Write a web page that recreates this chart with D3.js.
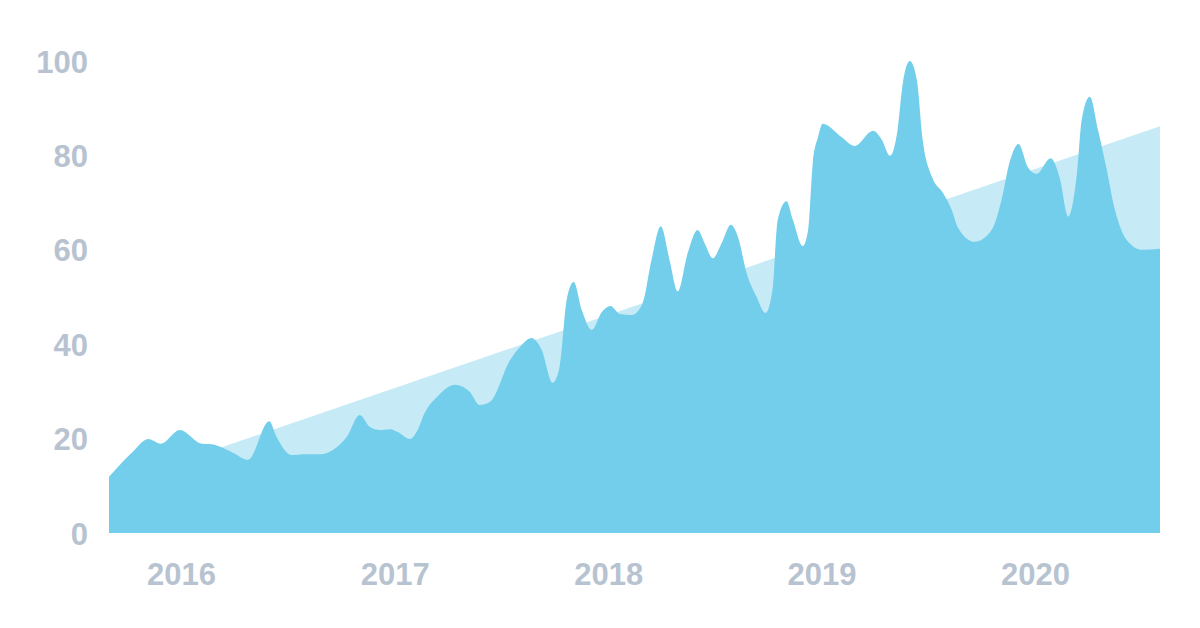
<!DOCTYPE html>
<html>
<head>
<meta charset="utf-8">
<script src="https://cdn.jsdelivr.net/npm/d3@7"></script>
<style>
  html, body { margin: 0; padding: 0; background: #ffffff; }
  svg { display: block; }
  .tick text { font-family: "Liberation Sans", Arial, sans-serif; font-weight: bold; }
</style>
</head>
<body>
<svg id="chart" width="1200" height="628"></svg>
<script>
// ---- data ----
const dates = [
  "2015-08-31","2015-10-09","2015-11-06","2015-11-28","2015-12-30",
  "2016-02-06","2016-02-23","2016-03-13","2016-03-30","2016-04-25",
  "2016-05-31","2016-06-13","2016-07-09","2016-07-28","2016-08-26",
  "2016-09-17","2016-10-11","2016-11-02","2016-11-19","2016-12-06",
  "2016-12-24","2017-01-06","2017-01-27","2017-02-09","2017-02-21",
  "2017-03-14","2017-04-14","2017-05-09","2017-05-26","2017-06-13",
  "2017-07-17","2017-08-03","2017-08-23","2017-09-09","2017-09-28",
  "2017-10-10","2017-10-22","2017-11-03","2017-11-17","2017-12-04",
  "2017-12-21","2018-01-05","2018-01-21","2018-02-10","2018-03-01",
  "2018-03-16","2018-04-01","2018-04-16","2018-04-30","2018-05-17",
  "2018-06-03","2018-06-15","2018-06-29","2018-07-14","2018-07-30",
  "2018-08-11","2018-08-26","2018-09-12","2018-09-27","2018-10-09",
  "2018-10-18","2018-11-02","2018-11-13","2018-11-30","2018-12-09",
  "2018-12-17","2018-12-26","2019-01-03","2019-02-04","2019-02-27",
  "2019-03-30","2019-04-14","2019-04-28","2019-05-11","2019-05-20",
  "2019-06-01","2019-06-13","2019-06-23","2019-07-09","2019-07-28",
  "2019-08-12","2019-08-22","2019-09-20","2019-10-19","2019-11-05",
  "2019-11-19","2019-12-04","2019-12-20","2020-01-04","2020-01-28",
  "2020-02-12","2020-02-27","2020-03-13","2020-03-21","2020-04-04",
  "2020-04-18","2020-05-03","2020-05-16","2020-06-06","2020-07-03",
  "2020-08-02"
];
const interest = [
  11.9, 17.0, 19.9, 18.9, 21.8,
  18.9, 18.8, 18.0, 17.0, 15.5,
  23.7, 20.3, 16.5, 16.7, 16.7,
  17.6, 20.4, 25.0, 22.5, 21.8,
  22.0, 21.4, 19.9, 21.8, 25.4,
  28.8, 31.4, 29.9, 27.1, 27.8,
  36.6, 39.4, 41.3, 38.8, 31.8,
  35.2, 49.4, 53.2, 47.2, 43.0,
  46.8, 48.1, 46.4, 46.2, 48.7,
  57.8, 65.0, 57.8, 51.2, 59.3,
  64.2, 61.4, 58.2, 61.4, 65.3,
  62.7, 55.0, 50.0, 46.6, 51.5,
  66.3, 70.3, 66.3, 60.8, 64.2,
  78.4, 83.9, 86.7, 83.9, 82.0,
  85.2, 83.3, 79.9, 85.4, 95.3,
  100.0, 96.0, 83.3, 75.4, 72.0,
  68.4, 64.8, 61.7, 64.2, 70.6,
  78.7, 82.4, 77.5, 76.1, 79.4,
  75.4, 67.0, 76.3, 87.5, 92.4,
  85.4, 76.9, 68.9, 62.1, 60.0,
  60.2
];
const trendDates = ["2015-08-31", "2020-08-02"];
const trendValues = [10, 86.2];
const yTicks = [0, 20, 40, 60, 80, 100];
const xTickYears = ["2016", "2017", "2018", "2019", "2020"];

// ---- build ----
const parse = d3.timeParse("%Y-%m-%d");
const series = dates.map((d, i) => ({ date: parse(d), value: interest[i] }));
const trend = trendDates.map((d, i) => ({ date: parse(d), value: trendValues[i] }));

const svg = d3.select("#chart");
const x = d3.scaleTime()
  .domain(d3.extent(series, d => d.date))
  .range([109, 1160]);
const y = d3.scaleLinear().domain([0, 100]).range([533, 61]);

const textColor = "#b7c3d0";

// trend area (light)
svg.append("path")
  .datum(trend)
  .attr("fill", "#c6eaf6")
  .attr("d", d3.area().x(d => x(d.date)).y0(y(0)).y1(d => y(d.value)));

// interest area (dark)
svg.append("path")
  .datum(series)
  .attr("fill", "#72ceea")
  .attr("d", d3.area()
    .curve(d3.curveMonotoneX)
    .x(d => x(d.date)).y0(y(0)).y1(d => y(d.value)));

// y axis
const yAxis = svg.append("g")
  .attr("transform", "translate(88,0)")
  .call(d3.axisLeft(y).tickValues(yTicks).tickSize(0).tickPadding(0));
yAxis.select(".domain").remove();
yAxis.selectAll("text")
  .attr("fill", textColor)
  .attr("font-size", 31)
  .attr("dy", "0.36em");

// x axis
const xAxis = svg.append("g")
  .attr("transform", "translate(0,563)")
  .call(d3.axisBottom(x)
    .tickValues(xTickYears.map(s => d3.timeParse("%Y")(s)))
    .tickFormat(d3.timeFormat("%Y"))
    .tickSize(0).tickPadding(0));
xAxis.select(".domain").remove();
xAxis.selectAll("text")
  .attr("fill", textColor)
  .attr("font-size", 31)
  .attr("dy", "0.72em");
</script>
</body>
</html>
